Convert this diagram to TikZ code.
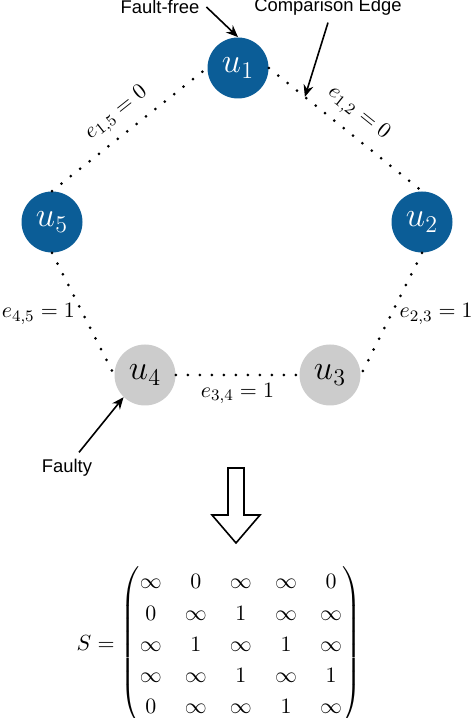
\documentclass[tikz,border=0pt]{standalone}
\usepackage{amsmath}
\usepackage{fontspec}
\setsansfont{Liberation Sans}
\usepackage{tikz}
\usetikzlibrary{arrows.meta}

\definecolor{okblue}{HTML}{0B5D97}
\definecolor{badgray}{HTML}{CCCCCC}

\begin{document}
\begin{tikzpicture}[x=0.5pt,y=0.5pt,
  vertex/.style={circle, minimum size=30.5pt, inner sep=0pt, font=\LARGE},
  good/.style={vertex, fill=okblue, text=white},
  bad/.style={vertex, fill=badgray, text=black},
  cmp/.style={line width=1.5pt, line cap=round, dash pattern=on 0pt off 6pt},
  lbl/.style={font=\fontsize{11}{13}\selectfont},
  note/.style={font=\sffamily\fontsize{9.2}{11}\selectfont},
  pointer/.style={-{Stealth[length=6pt,width=5pt]}, line width=0.8pt}]
\useasboundingbox (0,0) rectangle (474,718);

\node[good] (u1) at (238,650) {$u_1$};
\node[good] (u2) at (422,496) {$u_2$};
\node[bad]  (u3) at (330,343) {$u_3$};
\node[bad]  (u4) at (145,343) {$u_4$};
\node[good] (u5) at (52,496)  {$u_5$};

% comparison edges
\draw[cmp] (u5.north) -- node[lbl,sloped,above=1pt] {$e_{1,5}=0$} (u1.west);
\draw[cmp] (u1.east) -- node[lbl,sloped,above=1pt] {$e_{1,2}=0$} coordinate[pos=0.235] (c12) (u2.north);
\draw[cmp] (u5.south) -- node[lbl,left] {$e_{4,5}=1$} (u4.west);
\draw[cmp] (u2.south) -- node[lbl,right] {$e_{2,3}=1$} (u3.east);
\draw[cmp] (u4.east) -- node[lbl,below] {$e_{3,4}=1$} (u3.west);

% notes
\node[note] (ff) at (160,711) {Fault-free};
\node[note] (ce) at (328,711) {Comparison Edge};
\node[note] (fl) at (67,250) {Faulty};
\draw[pointer] (ff.east) -- (u1.north);
\draw[pointer] (ce.south) -- (c12);
\draw[pointer] ([xshift=6pt]fl.north) -- (u4.226);

% hollow arrow
\draw[line width=0.8pt] (228,250) -- (228,203) -- (212,203) -- (236,175) -- (260,203) -- (244,203) -- (244,250) -- cycle;

\node[lbl] (S) at (219,73) {\renewcommand{\arraystretch}{1.2}\setlength{\arraycolsep}{5.8pt}$S=\begin{pmatrix}
\infty & 0 & \infty & \infty & 0\\
0 & \infty & 1 & \infty & \infty\\
\infty & 1 & \infty & 1 & \infty\\
\infty & \infty & 1 & \infty & 1\\
0 & \infty & \infty & 1 & \infty
\end{pmatrix}$};
\end{tikzpicture}
\end{document}
